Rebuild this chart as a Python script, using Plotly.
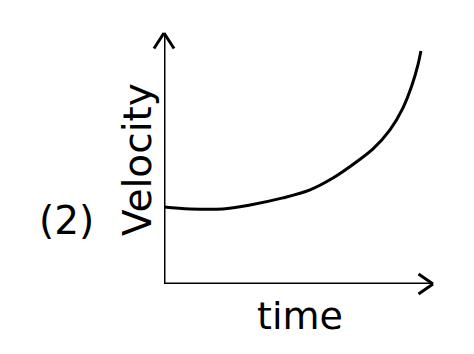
import plotly.graph_objects as go

# curve data (time, velocity) in arbitrary units, axes 0..10
time = [0.0, 0.97, 2.19, 3.20, 4.42, 5.43, 6.28, 7.10, 7.77, 8.40, 8.88, 9.22, 9.44, 9.55]
velocity = [3.07, 2.99, 2.99, 3.15, 3.43, 3.75, 4.22, 4.82, 5.38, 6.14, 7.01, 7.93, 8.73, 9.28]

x_range = [0, 10]
y_range = [0, 10]
x_label = "time"
y_label = "Velocity"
tag = "(2)"

fig = go.Figure()
fig.add_trace(go.Scatter(x=time, y=velocity, mode="lines",
                         line=dict(color="black", width=3, shape="spline", smoothing=1.0),
                         hoverinfo="skip", showlegend=False, cliponaxis=False))

# axis lines
xr, yr = x_range[1], y_range[1]
fig.add_trace(go.Scatter(x=[0, 0], y=[0, yr], mode="lines", line=dict(color="black", width=3),
                         hoverinfo="skip", showlegend=False))
fig.add_trace(go.Scatter(x=[0, xr], y=[0, 0], mode="lines", line=dict(color="black", width=3),
                         hoverinfo="skip", showlegend=False))

# open arrowhead arms (pixel offsets from the tips)
arms = [(0, yr, -11, 17), (0, yr, 11, 17), (xr, 0, -16, -11), (xr, 0, -16, 11)]
anns = [dict(x=x, y=y, xref="x", yref="y", ax=ax, ay=ay, text="", showarrow=True,
             arrowhead=0, arrowwidth=3, arrowcolor="black", standoff=0, startstandoff=0)
        for x, y, ax, ay in arms]

anns += [
    dict(text=x_label, xref="paper", yref="paper", x=0.506, y=-0.128,
         xanchor="center", yanchor="middle", showarrow=False, font=dict(size=38)),
    dict(text=y_label, xref="paper", yref="paper", x=-0.100, y=0.494,
         xanchor="center", yanchor="middle", textangle=-90, showarrow=False, font=dict(size=39)),
    dict(text=tag, xref="paper", yref="paper", x=-0.364, y=0.251,
         xanchor="center", yanchor="middle", showarrow=False, font=dict(size=39)),
]

fig.update_layout(
    width=474, height=354,
    margin=dict(l=164, r=41, t=33, b=70),
    paper_bgcolor="white", plot_bgcolor="white",
    xaxis=dict(range=x_range, visible=False),
    yaxis=dict(range=y_range, visible=False),
    font=dict(family="DejaVu Sans", color="black"),
    annotations=anns,
)
fig.write_html("out.html")
